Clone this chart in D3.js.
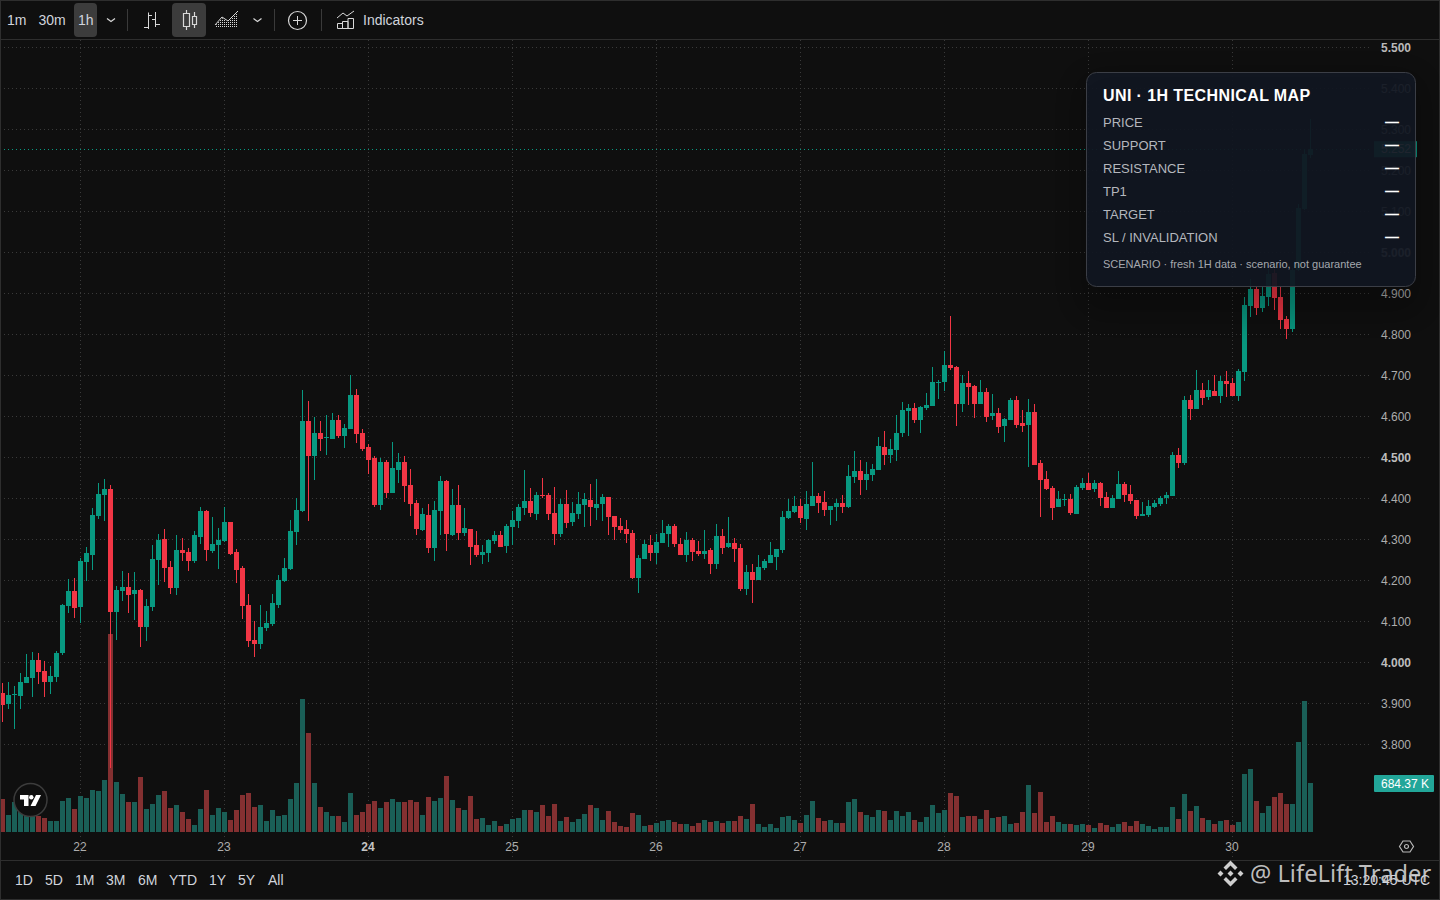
<!DOCTYPE html>
<html>
<head>
<meta charset="utf-8">
<title>UNI 1H</title>
<script src="https://cdn.jsdelivr.net/npm/d3@7"></script>
<style>
html, body { margin: 0; padding: 0; background: #0f0f0f; overflow: hidden; }
svg { display: block; font-family: "Liberation Sans", Arial, sans-serif; }
</style>
</head>
<body>
<svg id="canvas" width="1440" height="900"></svg>
<script>
const opens = [
  3.925,3.898,3.921,3.918,3.950,3.962,4.006,3.979,3.952,3.964,
  4.023,4.137,4.174,4.135,4.245,4.262,4.357,4.408,4.423,4.123,
  4.174,4.184,4.167,4.176,4.086,4.135,4.250,4.301,4.233,4.181,
  4.274,4.269,4.247,4.306,4.369,4.272,4.286,4.296,4.342,4.269,
  4.230,4.140,4.054,4.045,4.084,4.094,4.140,4.198,4.228,4.318,
  4.369,4.589,4.503,4.559,4.548,4.545,4.591,4.552,4.569,4.652,
  4.559,4.525,4.498,4.384,4.489,4.413,4.469,4.489,4.433,4.389,
  4.323,4.359,4.279,4.369,4.442,4.311,4.384,4.315,4.325,4.286,
  4.262,4.267,4.296,4.311,4.284,4.330,4.345,4.376,4.393,4.362,
  4.408,4.408,4.364,4.313,4.386,4.342,4.362,4.384,4.396,4.376,
  4.386,4.403,4.357,4.333,4.325,4.315,4.206,4.252,4.286,4.267,
  4.291,4.313,4.333,4.289,4.262,4.298,4.272,4.264,4.274,4.240,
  4.308,4.281,4.291,4.279,4.179,4.220,4.201,4.230,4.242,4.257,
  4.274,4.352,4.367,4.381,4.350,4.381,4.406,4.391,4.372,4.379,
  4.389,4.379,4.452,4.467,4.445,4.457,4.469,4.525,4.506,4.518,
  4.559,4.613,4.620,4.591,4.620,4.625,4.683,4.684,4.725,4.720,
  4.630,4.681,4.674,4.630,4.659,4.601,4.608,4.576,4.591,4.640,
  4.584,4.579,4.611,4.486,4.447,4.425,4.379,4.397,4.398,4.362,
  4.425,4.437,4.423,4.437,4.403,4.376,4.398,4.435,4.411,4.396,
  4.357,4.359,4.379,4.386,4.401,4.406,4.506,4.486,4.640,4.618,
  4.664,4.647,4.662,4.650,4.686,4.681,4.650,4.708,4.869,4.911,
  4.864,4.891,4.950,4.891,4.837,4.813,4.957,5.106,5.238
]
const closes = [
  3.896,3.920,3.923,3.952,3.964,4.006,3.976,3.952,3.967,4.023,
  4.140,4.174,4.133,4.247,4.267,4.359,4.411,4.423,4.123,4.176,
  4.184,4.164,4.176,4.086,4.137,4.252,4.298,4.230,4.181,4.274,
  4.267,4.247,4.311,4.369,4.274,4.289,4.298,4.342,4.264,4.225,
  4.137,4.052,4.045,4.086,4.096,4.145,4.201,4.230,4.320,4.372,
  4.589,4.503,4.559,4.545,4.549,4.591,4.552,4.572,4.652,4.557,
  4.520,4.493,4.384,4.489,4.413,4.474,4.489,4.430,4.386,4.325,
  4.362,4.279,4.372,4.442,4.313,4.384,4.315,4.328,4.281,4.262,
  4.269,4.298,4.311,4.281,4.333,4.347,4.379,4.393,4.364,4.408,
  4.406,4.362,4.313,4.386,4.340,4.364,4.386,4.398,4.379,4.386,
  4.403,4.354,4.330,4.323,4.313,4.206,4.254,4.289,4.267,4.293,
  4.315,4.333,4.289,4.262,4.298,4.269,4.264,4.272,4.240,4.308,
  4.279,4.291,4.276,4.179,4.220,4.201,4.233,4.247,4.262,4.276,
  4.354,4.369,4.381,4.352,4.386,4.406,4.389,4.372,4.381,4.389,
  4.379,4.454,4.467,4.445,4.459,4.472,4.528,4.506,4.520,4.559,
  4.615,4.620,4.591,4.623,4.628,4.684,4.684,4.725,4.718,4.630,
  4.681,4.672,4.630,4.659,4.598,4.608,4.574,4.593,4.640,4.579,
  4.576,4.611,4.481,4.445,4.423,4.376,4.398,4.398,4.364,4.428,
  4.437,4.420,4.437,4.401,4.376,4.401,4.435,4.408,4.393,4.357,
  4.362,4.381,4.389,4.401,4.408,4.506,4.486,4.640,4.618,4.664,
  4.645,4.664,4.650,4.686,4.679,4.650,4.711,4.872,4.911,4.864,
  4.893,4.947,4.889,4.835,4.813,4.957,5.109,5.240,5.252
]
const highs = [
  3.950,3.952,3.942,3.974,4.020,4.025,4.023,4.003,3.991,4.028,
  4.142,4.203,4.206,4.254,4.281,4.376,4.437,4.447,4.433,4.186,
  4.223,4.218,4.220,4.179,4.154,4.286,4.313,4.325,4.247,4.311,
  4.303,4.279,4.320,4.379,4.372,4.354,4.328,4.379,4.342,4.276,
  4.235,4.167,4.101,4.140,4.125,4.167,4.213,4.254,4.347,4.401,
  4.664,4.637,4.598,4.589,4.603,4.608,4.603,4.581,4.701,4.667,
  4.569,4.533,4.503,4.498,4.493,4.537,4.511,4.503,4.472,4.396,
  4.376,4.386,4.393,4.454,4.445,4.423,4.433,4.376,4.325,4.320,
  4.286,4.301,4.320,4.320,4.337,4.369,4.386,4.469,4.425,4.415,
  4.450,4.413,4.428,4.398,4.420,4.391,4.415,4.413,4.435,4.447,
  4.411,4.403,4.357,4.352,4.347,4.323,4.262,4.298,4.311,4.313,
  4.347,4.337,4.337,4.303,4.318,4.303,4.296,4.323,4.279,4.337,
  4.325,4.354,4.303,4.289,4.237,4.240,4.262,4.252,4.293,4.276,
  4.369,4.398,4.406,4.398,4.418,4.489,4.413,4.418,4.381,4.398,
  4.408,4.481,4.515,4.493,4.489,4.484,4.550,4.564,4.545,4.603,
  4.635,4.630,4.633,4.625,4.657,4.720,4.689,4.759,4.845,4.723,
  4.701,4.711,4.676,4.689,4.669,4.654,4.620,4.596,4.645,4.650,
  4.615,4.642,4.630,4.494,4.467,4.430,4.418,4.411,4.411,4.433,
  4.450,4.462,4.445,4.440,4.415,4.408,4.467,4.440,4.433,4.396,
  4.391,4.396,4.396,4.406,4.415,4.513,4.523,4.650,4.652,4.713,
  4.681,4.689,4.701,4.698,4.711,4.693,4.715,4.891,4.935,4.915,
  4.915,4.959,4.959,4.915,4.845,4.961,5.118,5.250,5.326
]
const lows = [
  3.854,3.886,3.837,3.886,3.950,3.915,3.947,3.915,3.923,3.952,
  4.018,4.120,4.108,4.096,4.198,4.225,4.350,4.345,3.742,4.054,
  4.150,4.120,4.103,4.037,4.052,4.125,4.189,4.196,4.167,4.164,
  4.247,4.223,4.242,4.289,4.247,4.267,4.228,4.293,4.262,4.193,
  4.106,4.037,4.013,4.033,4.077,4.089,4.133,4.196,4.225,4.286,
  4.367,4.345,4.445,4.515,4.506,4.545,4.547,4.523,4.569,4.535,
  4.515,4.459,4.379,4.372,4.401,4.413,4.437,4.391,4.357,4.311,
  4.320,4.267,4.247,4.311,4.272,4.308,4.298,4.308,4.237,4.257,
  4.240,4.245,4.289,4.281,4.267,4.286,4.328,4.359,4.354,4.347,
  4.401,4.347,4.286,4.306,4.328,4.333,4.350,4.330,4.333,4.347,
  4.345,4.311,4.298,4.315,4.291,4.203,4.169,4.252,4.247,4.240,
  4.291,4.281,4.281,4.262,4.245,4.247,4.259,4.252,4.215,4.228,
  4.264,4.279,4.245,4.174,4.164,4.145,4.201,4.225,4.242,4.225,
  4.267,4.350,4.364,4.340,4.323,4.381,4.364,4.357,4.335,4.345,
  4.364,4.376,4.437,4.408,4.420,4.442,4.469,4.481,4.486,4.491,
  4.550,4.552,4.584,4.559,4.615,4.625,4.642,4.662,4.713,4.576,
  4.611,4.628,4.596,4.630,4.586,4.591,4.559,4.537,4.591,4.572,
  4.562,4.476,4.481,4.354,4.420,4.347,4.379,4.381,4.359,4.362,
  4.420,4.420,4.415,4.381,4.376,4.376,4.398,4.391,4.386,4.350,
  4.357,4.354,4.376,4.381,4.386,4.406,4.474,4.481,4.591,4.618,
  4.628,4.640,4.650,4.633,4.647,4.650,4.637,4.686,4.842,4.847,
  4.854,4.869,4.859,4.813,4.789,4.806,4.955,5.104,5.230
]
// thousands
const volumes = [
  461,238,419,307,238,260,224,196,154,154,
  433,475,321,503,475,587,573,726,2766,699,
  531,419,419,768,321,391,517,573,335,377,
  279,182,98,321,587,238,335,279,168,307,
  517,545,349,377,154,307,224,238,461,685,
  1858,1383,685,349,279,224,224,140,545,238,
  279,391,433,335,419,461,419,419,447,419,
  238,489,433,475,782,447,335,307,503,182,
  196,98,154,84,112,182,196,307,307,279,
  377,224,391,154,210,140,182,251,377,335,
  168,293,140,84,70,265,238,84,98,126,
  154,168,140,112,112,84,126,168,140,154,
  126,154,154,224,182,391,112,70,112,56,
  210,224,168,126,238,433,196,154,168,126,
  126,419,461,279,238,210,307,293,168,293,
  224,279,168,140,210,377,265,307,545,503,
  210,224,224,182,307,196,210,224,112,126,
  279,657,265,559,140,224,140,112,112,98,
  112,98,56,126,98,70,112,140,84,154,
  112,84,42,70,70,349,182,531,293,363,
  196,168,112,154,168,98,140,810,880,433,
  265,363,489,545,391,391,1257,1830,684.37
]

const priceTicks = [5.5,5.4,5.3,5.2,5.1,5.0,4.9,4.8,4.7,4.6,4.5,4.4,4.3,4.2,4.1,4.0,3.9,3.8]
const dayIndex = [13,37,61,85,109,133,157,181,205]
const dayLabels = ["22","23","24","25","26","27","28","29","30"]
const boldDay = "24"
const lastPrice = 5.252
const lastVolume = "684.37 K"

const intervals = ["1m","30m","1h"]
const ranges = ["1D","5D","1M","3M","6M","YTD","1Y","5Y","All"]
const panelRows = ["PRICE","SUPPORT","RESISTANCE","TP1","TARGET","SL / INVALIDATION"]
const panelTitle = "UNI · 1H TECHNICAL MAP"
const panelNote = "SCENARIO · fresh 1H data · scenario, not guarantee"

const upColor = "#089981"
const downColor = "#f23645"
const bodyWidth = 5
const plotRight = 1371

const canvas = d3.select("#canvas")

const x = d3.scaleLinear().domain([0, 218]).range([2.5, 1310.5])
const y = d3.scaleLinear().domain([3.8, 5.5]).range([744.5, 47.5])
const yVol = d3.scaleLinear().domain([0, 2766]).range([832, 634])

const candles = opens.map((o, i) => ({i: i, o: o, c: closes[i], h: highs[i], l: lows[i], v: volumes[i], up: closes[i] >= o}))

canvas.append("rect").attr("width", 1440).attr("height", 900).attr("fill", "#0f0f0f")

// grid
const gridY = canvas.append("g")
    .call(d3.axisRight(y).tickValues(priceTicks).tickSize(plotRight).tickFormat("").offset(0))
gridY.select(".domain").remove()
gridY.selectAll("line").attr("stroke", "#3a3a3a").attr("stroke-dasharray", "1 3")

const gridX = canvas.append("g")
    .attr("transform", "translate(0,40)")
    .call(d3.axisBottom(x).tickValues(dayIndex).tickSize(820).tickFormat("").offset(0))
gridX.select(".domain").remove()
gridX.selectAll("line").attr("stroke", "#3a3a3a").attr("stroke-dasharray", "1 3")

// last price line
canvas.append("line")
    .attr("x1", 0).attr("x2", plotRight)
    .attr("y1", Math.round(y(lastPrice)) + 0.5).attr("y2", Math.round(y(lastPrice)) + 0.5)
    .attr("stroke", upColor).attr("stroke-dasharray", "1 3")

// volume
canvas.append("g").selectAll("rect")
    .data(candles)
    .enter().append("rect")
    .attr("x", d => x(d.i) - bodyWidth / 2)
    .attr("width", bodyWidth)
    .attr("y", d => yVol(d.v))
    .attr("height", d => yVol(0) - yVol(d.v))
    .attr("fill", d => d.up ? "#1a5f57" : "#843031")
    .attr("shape-rendering", "crispEdges")

// candles
const candleGroups = canvas.append("g").selectAll("g")
    .data(candles)
    .enter().append("g")

candleGroups.append("line")
    .attr("x1", d => x(d.i))
    .attr("x2", d => x(d.i))
    .attr("y1", d => y(d.h))
    .attr("y2", d => y(d.l))
    .attr("stroke", d => d.up ? upColor : downColor)
    .attr("shape-rendering", "crispEdges")

candleGroups.append("rect")
    .attr("x", d => x(d.i) - bodyWidth / 2)
    .attr("width", bodyWidth)
    .attr("y", d => y(Math.max(d.o, d.c)))
    .attr("height", d => Math.max(1, Math.abs(y(d.o) - y(d.c))))
    .attr("fill", d => d.up ? upColor : downColor)
    .attr("shape-rendering", "crispEdges")

// price axis
const priceAxis = canvas.append("g")
    .attr("transform", "translate(1381,1)")
    .call(d3.axisRight(y).tickValues(priceTicks).tickSize(0).tickPadding(0).tickFormat(d3.format(".3f")).offset(0))
priceAxis.select(".domain").remove()
priceAxis.selectAll("text")
    .attr("font-family", "Liberation Sans").attr("font-size", 12)
    .attr("font-weight", d => Math.round(d * 10) % 5 == 0 ? 700 : 400)
    .attr("fill", d => Math.round(d * 10) % 5 == 0 ? "#bdbdbd" : "#adadad")

// volume tag and price tag
canvas.append("rect").attr("x", 1374).attr("y", y(lastPrice) - 8).attr("width", 43).attr("height", 16).attr("fill", upColor)
canvas.append("text").attr("x", 1381).attr("y", y(lastPrice) + 4).attr("font-size", 12).attr("fill", "#fff").text(d3.format(".3f")(lastPrice))

canvas.append("rect").attr("x", 1374).attr("y", 775).attr("width", 60).attr("height", 17).attr("rx", 1).attr("fill", "#22a699")
canvas.append("text").attr("x", 1381).attr("y", 788).attr("font-size", 12).attr("fill", "#fff").text(lastVolume)

// date axis
const dateAxis = canvas.append("g")
    .attr("transform", "translate(-0.5,846.5)")
    .call(d3.axisBottom(x).tickValues(dayIndex).tickSize(0).tickPadding(0).offset(0)
        .tickFormat((d, i) => dayLabels[i]))
dateAxis.select(".domain").remove()
dateAxis.selectAll("text")
    .attr("y", 0).attr("dy", "0.35em")
    .attr("font-family", "Liberation Sans").attr("font-size", 12)
    .attr("font-weight", (d, i) => dayLabels[i] == boldDay ? 700 : 400)
    .attr("fill", (d, i) => dayLabels[i] == boldDay ? "#c4c4c4" : "#adadad")

// gear on the axis corner
const gear = canvas.append("g").attr("transform", "translate(1406.5,846.5)").attr("fill", "none").attr("stroke", "#b8b8b8").attr("stroke-width", 1.2)
gear.append("path").attr("d", "M-7,0 L-3.5,-5.5 L3.5,-5.5 L7,0 L3.5,5.5 L-3.5,5.5 Z")
gear.append("circle").attr("r", 2)

// frame and bars
canvas.append("rect").attr("x", 0.5).attr("y", 0.5).attr("width", 1439).attr("height", 899).attr("fill", "none").attr("stroke", "#2e2e2e")
canvas.append("rect").attr("x", 1).attr("y", 1).attr("width", 1438).attr("height", 38).attr("fill", "#0f0f0f")
canvas.append("line").attr("x1", 0).attr("x2", 1440).attr("y1", 39.5).attr("y2", 39.5).attr("stroke", "#2e2e2e")
canvas.append("line").attr("x1", 0).attr("x2", 1440).attr("y1", 860.5).attr("y2", 860.5).attr("stroke", "#2e2e2e")

// toolbar
canvas.append("rect").attr("x", 74).attr("y", 3).attr("width", 23).attr("height", 34).attr("rx", 4).attr("fill", "#3c3c3c")
canvas.append("rect").attr("x", 172).attr("y", 3).attr("width", 34).attr("height", 34).attr("rx", 4).attr("fill", "#3c3c3c")

const intervalX = [7, 38.5, 78]
canvas.append("g").selectAll("text")
    .data(intervals)
    .enter().append("text")
    .attr("x", (d, i) => intervalX[i])
    .attr("y", 25)
    .attr("font-size", 14)
    .attr("fill", "#d1d4dc")
    .text(d => d)

const iconStroke = "#d8d8d8"
function icon(dPath, w) {
    canvas.append("path").attr("d", dPath).attr("fill", "none").attr("stroke", iconStroke).attr("stroke-width", w || 1)
}
icon("M107,18.5 L111,21.5 L115,18.5", 1.2)
icon("M253.5,18.5 L257.5,21.5 L261.5,18.5", 1.2)
d3.range(3).forEach(i => {
    const sx = [127.5, 274.5, 321.5][i]
    canvas.append("line").attr("x1", sx).attr("x2", sx).attr("y1", 9).attr("y2", 31).attr("stroke", "#3a3a3a")
})
// bar style icon
icon("M148.5,12.5 V29 M144,27.5 H148.5 M148.5,15.5 H152 M155.5,12 V27 M155.5,24.5 H160 M152,19.5 H155.5")
// candle style icon
icon("M186.5,10 V13.5 M186.5,26.5 V30 M183.5,13.5 H189.5 V26.5 H183.5 Z M194.5,12 V16.5 M194.5,24.5 V28 M192.5,16.5 H196.5 V24.5 H192.5 Z", 1.2)
// area style icon
const defs = canvas.append("defs")
defs.append("pattern").attr("id", "dots").attr("width", 2).attr("height", 2).attr("patternUnits", "userSpaceOnUse")
    .append("rect").attr("width", 1).attr("height", 1).attr("fill", "#d8d8d8")
canvas.append("path").attr("d", "M215,28 V26 L222,18 L228,22 L238,12 V28 Z").attr("fill", "url(#dots)")
icon("M215,25 L222,17 L228,21 L238,11")
// plus in a circle
canvas.append("circle").attr("cx", 297.5).attr("cy", 20.5).attr("r", 9).attr("fill", "none").attr("stroke", iconStroke).attr("stroke-width", 1.2)
icon("M293,20.5 H302 M297.5,16 V25")
// indicators icon
icon("M337,18 L343,13 L347,16 L354,11 M337.5,23.5 H342.5 V28.5 H337.5 Z M342.5,21.5 H348 V28.5 H342.5 Z M348,18.5 H353.5 V28.5 H348 Z")
canvas.append("text").attr("x", 363).attr("y", 25).attr("font-size", 14).attr("fill", "#d1d4dc").text("Indicators")

// range buttons
const rangeX = [15, 45, 75, 106, 138, 169, 209, 238, 268]
canvas.append("g").selectAll("text")
    .data(ranges)
    .enter().append("text")
    .attr("x", (d, i) => rangeX[i])
    .attr("y", 885)
    .attr("font-size", 14)
    .attr("fill", "#d1d4dc")
    .text(d => d)

// chart logo
canvas.append("circle").attr("cx", 30.5).attr("cy", 800).attr("r", 16.5).attr("fill", "#0f0f0f").attr("stroke", "#3c3c3c").attr("stroke-width", 1.5)
canvas.append("path").attr("d", "M20,795 H28.5 V806 H24 V799.5 H20 Z M36,795 H41 L35.5,806 H30.5 Z").attr("fill", "#fff")
canvas.append("circle").attr("cx", 31.3).attr("cy", 797.3).attr("r", 2.2).attr("fill", "#fff")

// clock under the watermark
canvas.append("text").attr("x", 1343).attr("y", 885).attr("font-size", 14).attr("fill", "#d1d4dc").text("13:20:45 UTC")

// watermark
const mark = canvas.append("g").attr("fill", "#cfcfcf")
mark.append("path").attr("d", "M1230.5,870.5 L1233.5,873.5 L1230.5,876.5 L1227.5,873.5 Z")
mark.append("path").attr("d", "M1220.5,870.5 L1223.5,873.5 L1220.5,876.5 L1217.5,873.5 Z M1240.5,870.5 L1243.5,873.5 L1240.5,876.5 L1237.5,873.5 Z")
mark.append("path").attr("d", "M1230.5,860.5 L1237.5,867.5 L1235,870 L1230.5,865.5 L1226,870 L1223.5,867.5 Z M1230.5,886.5 L1237.5,879.5 L1235,877 L1230.5,881.5 L1226,877 L1223.5,879.5 Z")
canvas.append("text").attr("x", 1250).attr("y", 882).attr("font-family", "Noto Sans").attr("font-size", 23.7)
    .attr("fill", "#cfcfcf").attr("fill-opacity", 0.92).text("@ LifeLift Trader")

// panel
const blur = defs.append("filter").attr("id", "panelShadow").attr("x", "-20%").attr("y", "-20%").attr("width", "140%").attr("height", "150%")
blur.append("feGaussianBlur").attr("stdDeviation", 18)
canvas.append("rect").attr("x", 1076).attr("y", 72).attr("width", 350).attr("height", 245).attr("rx", 12)
    .attr("fill", "#000").attr("fill-opacity", 0.28).attr("filter", "url(#panelShadow)")
canvas.append("rect").attr("x", 1086.5).attr("y", 72.5).attr("width", 329).attr("height", 214).attr("rx", 10)
    .attr("fill", "#111722").attr("fill-opacity", 0.92).attr("stroke", "#3b3e46")

canvas.append("text").attr("x", 1103).attr("y", 101).attr("font-size", 16).attr("font-weight", 700)
    .attr("letter-spacing", 0.4).attr("fill", "#fff").text(panelTitle)

const rowY = d3.scalePoint().domain(panelRows).range([122, 237])
canvas.append("g").selectAll("text")
    .data(panelRows)
    .enter().append("text")
    .attr("x", 1103).attr("y", d => rowY(d) + 4.5)
    .attr("font-size", 13).attr("fill", "#b4b7bd")
    .text(d => d)
canvas.append("g").selectAll("text")
    .data(panelRows)
    .enter().append("text")
    .attr("x", 1385).attr("y", d => rowY(d) + 5)
    .attr("font-size", 14).attr("font-weight", 700).attr("fill", "#fff")
    .text("—")
canvas.append("text").attr("x", 1103).attr("y", 268).attr("font-size", 11).attr("fill", "#a5a8ae").text(panelNote)
</script>
</body>
</html>
